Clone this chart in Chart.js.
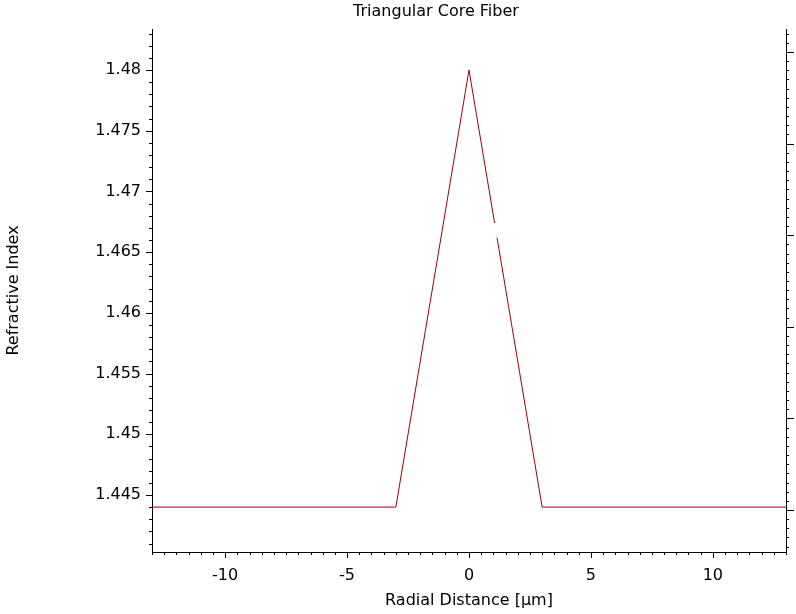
<!DOCTYPE html>
<html><head><meta charset="utf-8">
<script src="https://cdn.jsdelivr.net/npm/chart.js@4"></script>
<style>html,body{margin:0;padding:0;background:#fff}#w{width:796px;height:614px}</style>
</head><body><div id="w"><canvas id="c"></canvas></div>
<script>
const xValues = [-13, -3, 0, 1.05, null, 1.15, 3, 13];
const yValues = [1.444, 1.444, 1.48, 1.4674, null, 1.4662, 1.444, 1.444];
const xTicks = [-10, -5, 0, 5, 10];
const yTicks = [1.445, 1.45, 1.455, 1.46, 1.465, 1.47, 1.475, 1.48];
const rightTicks = [0, 1, 2, 3, 4, 5];
const xRange = [-13, 13], yRange = [1.4403, 1.48338], rRange = [-0.4585, 5.251];
const FONT = "'DejaVu Sans', sans-serif";

const pts = xValues.map((x, i) => (x === null ? {x: NaN, y: null} : {x, y: yValues[i]}));

const minorPlugin = {
  id: 'minor',
  afterDraw(chart) {
    const c = chart.ctx, ca = chart.chartArea;
    c.save(); c.strokeStyle = '#000'; c.lineWidth = 1;
    const xs = chart.scales.x, ys = chart.scales.y, rs = chart.scales.r;
    c.beginPath();
    for (let v = -13; v <= 13.001; v += 0.5) {
      const p = Math.round(xs.getPixelForValue(v)) + 0.5;
      const major = xTicks.some(t => Math.abs(t - v) < 1e-6);
      c.moveTo(p, ca.bottom); c.lineTo(p, ca.bottom + (major ? 6 : 3));
    }
    for (let v = 1.441; v <= 1.4833; v += 0.001) {
      const p = Math.round(ys.getPixelForValue(v)) + 0.5;
      const major = yTicks.some(t => Math.abs(t - v) < 1e-6);
      c.moveTo(ca.left, p); c.lineTo(ca.left - (major ? 6 : 3), p);
    }
    for (let v = -0.4; v <= 5.25; v += 0.1) {
      const p = Math.round(rs.getPixelForValue(v)) + 0.5;
      const major = Math.abs(v - Math.round(v)) < 1e-6;
      c.moveTo(ca.right, p); c.lineTo(ca.right + (major ? 8 : 3), p);
    }
    c.stroke();
    c.fillStyle = '#000'; c.font = '16px ' + FONT; c.textAlign = 'center'; c.textBaseline = 'middle';
    c.fillText('Triangular Core Fiber', 436, 12);
    c.restore();
  }
};

new Chart(document.getElementById('c'), {
  type: 'line',
  data: { datasets: [{ data: pts, borderColor: '#a00000', borderWidth: 1, pointRadius: 0, tension: 0, spanGaps: false }] },
  options: {
    responsive: true, maintainAspectRatio: false, animation: false,
    layout: { padding: { top: 29, right: 0, left: 0, bottom: 0 } },
    plugins: { legend: { display: false }, tooltip: { enabled: false } },
    scales: {
      x: {
        type: 'linear', min: xRange[0], max: xRange[1],
        afterBuildTicks: s => { s.ticks = xTicks.map(v => ({value: v})); },
        afterFit: s => { s.height = 62; },
        grid: { drawOnChartArea: false, drawTicks: false },
        border: { color: '#000', width: 1 },
        ticks: { color: '#000', font: { family: FONT, size: 16 }, padding: 14, maxRotation: 0 },
        title: { display: true, text: 'Radial Distance [µm]', color: '#000', font: { family: FONT, size: 16 }, padding: { top: 2 } }
      },
      y: {
        type: 'linear', min: yRange[0], max: yRange[1],
        afterBuildTicks: s => { s.ticks = yTicks.map(v => ({value: v})); },
        afterFit: s => { s.width = 152; },
        grid: { drawOnChartArea: false, drawTicks: false },
        border: { color: '#000', width: 1 },
        ticks: { color: '#000', font: { family: FONT, size: 16 }, padding: 11, callback: v => String(+v.toFixed(4)) },
        title: { display: true, text: 'Refractive Index', color: '#000', font: { family: FONT, size: 16 }, padding: { bottom: 38 } }
      },
      r: {
        type: 'linear', position: 'right', min: rRange[0], max: rRange[1],
        afterBuildTicks: s => { s.ticks = rightTicks.map(v => ({value: v})); },
        afterFit: s => { s.width = 10; },
        grid: { drawOnChartArea: false, drawTicks: false },
        border: { color: '#000', width: 1 },
        ticks: { display: false }
      }
    }
  },
  plugins: [minorPlugin]
});
</script></body></html>
